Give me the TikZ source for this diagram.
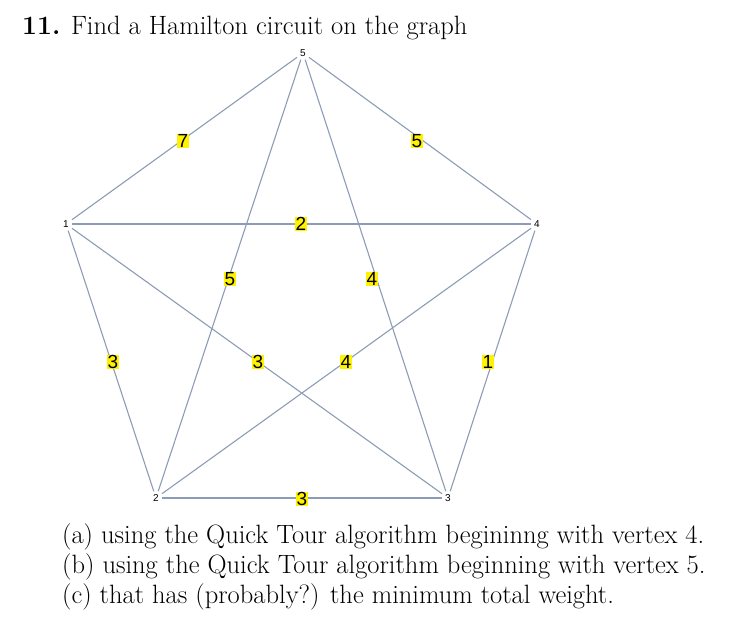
\documentclass[tikz,border=0pt]{standalone}
\usepackage{fontspec}
\newfontfamily\arial{Liberation Sans}
\definecolor{edgec}{RGB}{140,156,182}
\tikzset{
 vert/.style={font=\arial\fontsize{10}{10}\selectfont, inner sep=3pt},
 wt/.style={font=\arial\fontsize{19}{19}\selectfont, fill=yellow, inner sep=0.5pt, text=black},
 edge/.style={draw=edgec, line width=1.1pt},
 body/.style={font=\fontsize{26.5}{30}\selectfont, anchor=west, inner sep=0pt}
}
\begin{document}
\begin{tikzpicture}[x=1pt,y=-1pt]
\useasboundingbox (0,0) rectangle (754,618);
\node[body] (title) at (22,28) {\textbf{11.} Find a Hamilton circuit on the graph};
\node[vert] (v5) at (303,53) {5};
\node[vert] (v1) at (66,224) {1};
\node[vert] (v4) at (537,224) {4};
\node[vert] (v2) at (156,498) {2};
\node[vert] (v3) at (448,498) {3};
\draw[edge] (v5) -- (v1);
\draw[edge] (v5) -- (v4);
\draw[edge] (v1) -- (v4);
\draw[edge] (v5) -- (v2);
\draw[edge] (v5) -- (v3);
\draw[edge] (v1) -- (v2);
\draw[edge] (v1) -- (v3);
\draw[edge] (v4) -- (v2);
\draw[edge] (v4) -- (v3);
\draw[edge] (v2) -- (v3);
\node[wt] (w1) at (183,141) {7};
\node[wt] (w2) at (417,141) {5};
\node[wt] (w3) at (301,224) {2};
\node[wt] (w4) at (230,279) {5};
\node[wt] (w5) at (372,279) {4};
\node[wt] (w6) at (113,362) {3};
\node[wt] (w7) at (258,362) {3};
\node[wt] (w8) at (346,362) {4};
\node[wt] (w9) at (488,362) {1};
\node[wt] (w10) at (302,499) {3};
\node[body] (a) at (62,537) {(a) using the Quick Tour algorithm begininng with vertex 4.};
\node[body] (b) at (62,567) {(b) using the Quick Tour algorithm beginning with vertex 5.};
\node[body] (c) at (62,597) {(c) that has (probably?) the minimum total weight.};
\end{tikzpicture}
\end{document}
